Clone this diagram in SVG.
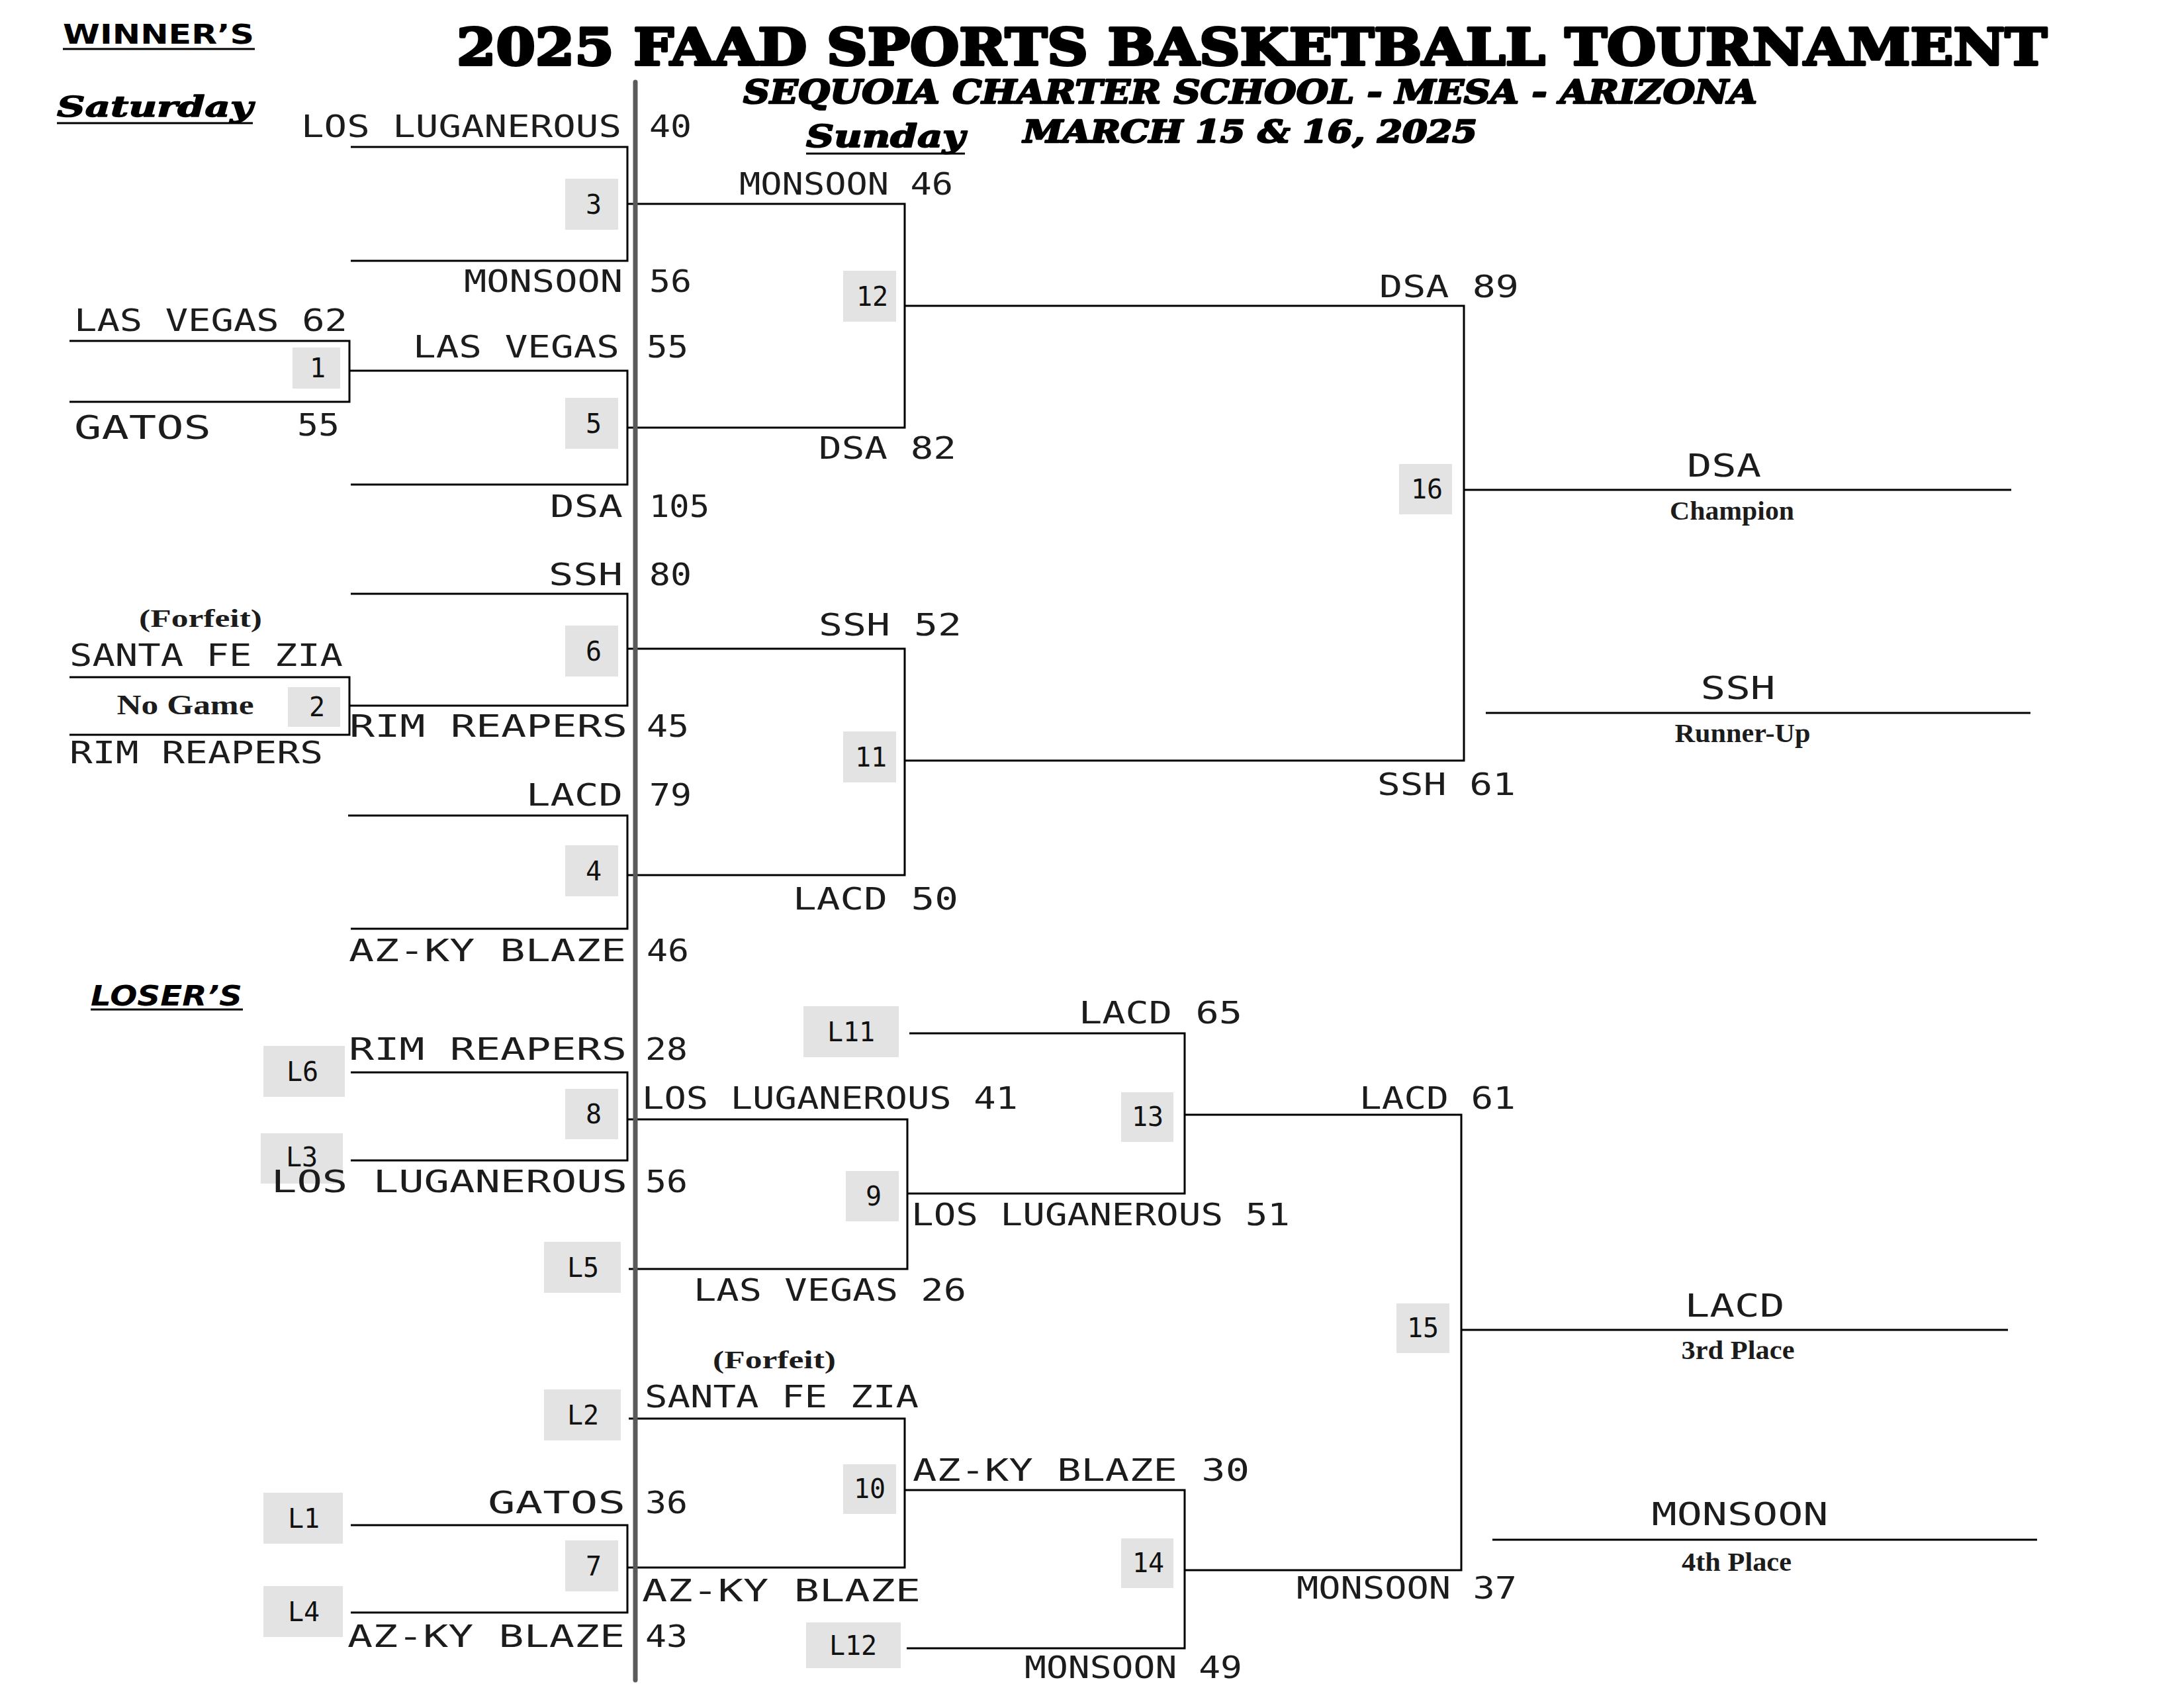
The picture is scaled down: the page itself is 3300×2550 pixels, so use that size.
<svg xmlns="http://www.w3.org/2000/svg" width="3300" height="2550" viewBox="0 0 3300 2550">
<style>
.nm{font-family:"DejaVu Sans Mono","Liberation Mono",monospace;font-size:46px;fill:#1c1c1c}
.big{font-size:50px}
.pl{font-family:"DejaVu Sans Mono","Liberation Mono",monospace;font-size:48px;fill:#1c1c1c}
.sr{font-family:"Liberation Serif","Times New Roman",serif;font-weight:bold;fill:#1c1c1c}
.box{fill:#e3e3e3}
.bn{font-family:"DejaVu Sans Mono","Liberation Mono",monospace;font-size:40px;fill:#111;text-anchor:middle}
.ln{fill:none;stroke:#000;stroke-width:3}
.hd{font-family:"DejaVu Serif","Liberation Serif",serif;font-weight:bold;fill:#000;stroke:#000;stroke-linejoin:round}
</style>
<rect width="3300" height="2550" fill="#fff"/>

<g id="headings">
<text class="hd" x="690" y="98" font-size="76" stroke-width="4" textLength="2403" lengthAdjust="spacingAndGlyphs">2025 FAAD SPORTS BASKETBALL TOURNAMENT</text>
<text class="hd" x="1123" y="156" font-size="48" stroke-width="2.5" font-style="italic" textLength="1532" lengthAdjust="spacingAndGlyphs">SEQUOIA CHARTER SCHOOL - MESA - ARIZONA</text>
<text class="hd" x="1546" y="215" font-size="46" stroke-width="2.5" font-style="italic" textLength="686" lengthAdjust="spacingAndGlyphs">MARCH 15 &amp; 16, 2025</text>
<text class="hd" x="1218" y="222" font-size="46" stroke-width="2" font-style="italic" textLength="240" lengthAdjust="spacingAndGlyphs">Sunday</text>
<line x1="1218" y1="232" x2="1458" y2="232" stroke="#000" stroke-width="3"/>
<text x="95" y="66" font-family="DejaVu Sans,Liberation Sans,sans-serif" font-weight="bold" font-size="40" fill="#000" textLength="289" lengthAdjust="spacingAndGlyphs">WINNER’S</text>
<line x1="95" y1="74" x2="385" y2="74" stroke="#000" stroke-width="3"/>
<text class="hd" x="86" y="176" font-size="43" stroke-width="1.5" font-style="italic" textLength="296" lengthAdjust="spacingAndGlyphs">Saturday</text>
<line x1="86" y1="186" x2="382" y2="186" stroke="#000" stroke-width="3"/>
<text x="137" y="1519" font-family="DejaVu Sans,Liberation Sans,sans-serif" font-weight="bold" font-style="italic" font-size="43" fill="#000" textLength="229" lengthAdjust="spacingAndGlyphs">LOSER’S</text>
<line x1="137" y1="1525" x2="367" y2="1525" stroke="#000" stroke-width="3"/>
</g>

<g id="connectors">
<path class="ln" d="M530,222 H948 V394 H530"/>
<path class="ln" d="M105,515 H528 V607 H105"/>
<path class="ln" d="M528,560 H948 V732 H530"/>
<path class="ln" d="M948,308 H1367 V646 H948"/>
<path class="ln" d="M530,897 H948 V1066 H528"/>
<path class="ln" d="M105,1023 H528 V1110 H105"/>
<path class="ln" d="M526,1232 H948 V1403 H530"/>
<path class="ln" d="M948,980 H1367 V1322 H948"/>
<path class="ln" d="M1367,462 H2212 V1149 H1367"/>
<path class="ln" d="M2212,740 H3039"/>
<path class="ln" d="M2245,1077 H3068"/>
<path class="ln" d="M530,1620 H948 V1753 H530"/>
<path class="ln" d="M948,1691 H1371 V1917 H950"/>
<path class="ln" d="M1371,1803 H1790 V1561 H1374"/>
<path class="ln" d="M1790,1684 H2208 V2372 H1790"/>
<path class="ln" d="M2208,2009 H3034"/>
<path class="ln" d="M2255,2326 H3078"/>
<path class="ln" d="M530,2304 H948 V2436 H530"/>
<path class="ln" d="M950,2143 H1367 V2368 H948"/>
<path class="ln" d="M1367,2251 H1790 V2490 H1370"/>
<line x1="960" y1="124" x2="960" y2="2538" stroke="#5a5a5a" stroke-width="7" stroke-linecap="round"/>
</g>

<g id="game-boxes">
<g id="g3"><rect class="box" x="854" y="270" width="80" height="77"/><text class="bn" x="897" y="323">3</text></g>
<g id="g1"><rect class="box" x="442" y="525" width="72" height="62"/><text class="bn" x="480" y="570">1</text></g>
<g id="g5"><rect class="box" x="854" y="601" width="80" height="77"/><text class="bn" x="897" y="654">5</text></g>
<g id="g6"><rect class="box" x="854" y="945" width="80" height="77"/><text class="bn" x="897" y="998">6</text></g>
<g id="g2"><rect class="box" x="435" y="1038" width="79" height="60"/><text class="bn" x="479" y="1082">2</text></g>
<g id="g4"><rect class="box" x="854" y="1277" width="80" height="77"/><text class="bn" x="897" y="1330">4</text></g>
<g id="g12"><rect class="box" x="1274" y="409" width="80" height="77"/><text class="bn" x="1318" y="462">12</text></g>
<g id="g11"><rect class="box" x="1274" y="1105" width="80" height="77"/><text class="bn" x="1316" y="1158">11</text></g>
<g id="g16"><rect class="box" x="2114" y="701" width="80" height="76"/><text class="bn" x="2156" y="753">16</text></g>
<g id="l6"><rect class="box" x="398" y="1580" width="123" height="77"/><text class="bn" x="457" y="1633">L6</text></g>
<g id="g8"><rect class="box" x="854" y="1645" width="80" height="76"/><text class="bn" x="897" y="1697">8</text></g>
<g id="l3"><rect class="box" x="394" y="1712" width="124" height="76"/><text class="bn" x="456" y="1762">L3</text></g>
<g id="l5"><rect class="box" x="822" y="1876" width="116" height="77"/><text class="bn" x="881" y="1929">L5</text></g>
<g id="l2"><rect class="box" x="822" y="2099" width="116" height="77"/><text class="bn" x="881" y="2152">L2</text></g>
<g id="l1"><rect class="box" x="398" y="2255" width="120" height="77"/><text class="bn" x="459" y="2308">L1</text></g>
<g id="g7"><rect class="box" x="854" y="2327" width="80" height="77"/><text class="bn" x="897" y="2380">7</text></g>
<g id="l4"><rect class="box" x="398" y="2396" width="120" height="77"/><text class="bn" x="459" y="2449">L4</text></g>
<g id="l11"><rect class="box" x="1214" y="1520" width="144" height="77"/><text class="bn" x="1286" y="1573">L11</text></g>
<g id="g13"><rect class="box" x="1694" y="1650" width="79" height="75"/><text class="bn" x="1734" y="1701">13</text></g>
<g id="g9"><rect class="box" x="1278" y="1769" width="80" height="76"/><text class="bn" x="1320" y="1821">9</text></g>
<g id="g15"><rect class="box" x="2110" y="1969" width="80" height="75"/><text class="bn" x="2150" y="2020">15</text></g>
<g id="g10"><rect class="box" x="1274" y="2212" width="80" height="75"/><text class="bn" x="1314" y="2263">10</text></g>
<g id="g14"><rect class="box" x="1694" y="2324" width="79" height="75"/><text class="bn" x="1735" y="2375">14</text></g>
<g id="l12"><rect class="box" x="1218" y="2451" width="143" height="69"/><text class="bn" x="1289" y="2500">L12</text></g>
</g>

<g id="winners-labels">
<text class="nm" x="455" y="207" textLength="484" lengthAdjust="spacingAndGlyphs">LOS LUGANEROUS</text>
<text class="nm" x="981" y="207" textLength="64" lengthAdjust="spacingAndGlyphs">40</text>
<text class="nm" x="701" y="441" textLength="240" lengthAdjust="spacingAndGlyphs">MONSOON</text>
<text class="nm" x="981" y="441" textLength="64" lengthAdjust="spacingAndGlyphs">56</text>
<text class="nm" x="112" y="500" textLength="413" lengthAdjust="spacingAndGlyphs">LAS VEGAS 62</text>
<text class="nm" x="624" y="540" textLength="312" lengthAdjust="spacingAndGlyphs">LAS VEGAS</text>
<text class="nm" x="977" y="540" textLength="63" lengthAdjust="spacingAndGlyphs">55</text>
<text class="nm big" x="112" y="663" textLength="207" lengthAdjust="spacingAndGlyphs">GATOS</text>
<text class="nm" x="449" y="658" textLength="64" lengthAdjust="spacingAndGlyphs">55</text>
<text class="nm" x="831" y="781" textLength="110" lengthAdjust="spacingAndGlyphs">DSA</text>
<text class="nm" x="981" y="781" textLength="91" lengthAdjust="spacingAndGlyphs">105</text>
<text class="nm" x="829" y="884" textLength="112" lengthAdjust="spacingAndGlyphs">SSH</text>
<text class="nm" x="981" y="884" textLength="64" lengthAdjust="spacingAndGlyphs">80</text>
<text class="sr" x="303" y="947" font-size="38" text-anchor="middle" textLength="186" lengthAdjust="spacingAndGlyphs">(Forfeit)</text>
<text class="nm" x="105" y="1006" textLength="413" lengthAdjust="spacingAndGlyphs">SANTA FE ZIA</text>
<text class="sr" x="280" y="1079" font-size="42" text-anchor="middle" textLength="207" lengthAdjust="spacingAndGlyphs">No Game</text>
<text class="nm" x="528" y="1113" textLength="420" lengthAdjust="spacingAndGlyphs">RIM REAPERS</text>
<text class="nm" x="977" y="1113" textLength="64" lengthAdjust="spacingAndGlyphs">45</text>
<text class="nm" x="105" y="1153" textLength="383" lengthAdjust="spacingAndGlyphs">RIM REAPERS</text>
<text class="nm" x="795" y="1217" textLength="146" lengthAdjust="spacingAndGlyphs">LACD</text>
<text class="nm" x="981" y="1217" textLength="64" lengthAdjust="spacingAndGlyphs">79</text>
<text class="nm" x="527" y="1452" textLength="419" lengthAdjust="spacingAndGlyphs">AZ-KY BLAZE</text>
<text class="nm" x="977" y="1452" textLength="64" lengthAdjust="spacingAndGlyphs">46</text>
<text class="nm" x="1117" y="294" textLength="323" lengthAdjust="spacingAndGlyphs">MONSOON 46</text>
<text class="nm" x="2084" y="449" textLength="211" lengthAdjust="spacingAndGlyphs">DSA 89</text>
<text class="nm" x="1237" y="693" textLength="208" lengthAdjust="spacingAndGlyphs">DSA 82</text>
<text class="nm" x="1237" y="960" textLength="216" lengthAdjust="spacingAndGlyphs">SSH 52</text>
<text class="nm" x="2081" y="1201" textLength="209" lengthAdjust="spacingAndGlyphs">SSH 61</text>
<text class="nm" x="1198" y="1374" textLength="250" lengthAdjust="spacingAndGlyphs">LACD 50</text>
</g>

<g id="placings">
<text class="pl" x="2605" y="720" text-anchor="middle" textLength="112" lengthAdjust="spacingAndGlyphs">DSA</text>
<text class="sr" x="2617" y="785" font-size="40" text-anchor="middle" textLength="188" lengthAdjust="spacingAndGlyphs">Champion</text>
<text class="pl" x="2626" y="1056" text-anchor="middle" textLength="113" lengthAdjust="spacingAndGlyphs">SSH</text>
<text class="sr" x="2633" y="1121" font-size="40" text-anchor="middle" textLength="205" lengthAdjust="spacingAndGlyphs">Runner-Up</text>
<text class="pl" x="2621" y="1989" text-anchor="middle" textLength="151" lengthAdjust="spacingAndGlyphs">LACD</text>
<text class="sr" x="2626" y="2053" font-size="40" text-anchor="middle" textLength="171" lengthAdjust="spacingAndGlyphs">3rd Place</text>
<text class="pl" x="2629" y="2304" text-anchor="middle" textLength="267" lengthAdjust="spacingAndGlyphs">MONSOON</text>
<text class="sr" x="2624" y="2373" font-size="40" text-anchor="middle" textLength="166" lengthAdjust="spacingAndGlyphs">4th Place</text>
</g>

<g id="losers-labels">
<text class="nm" x="527" y="1601" textLength="420" lengthAdjust="spacingAndGlyphs">RIM REAPERS</text>
<text class="nm" x="975" y="1601" textLength="64" lengthAdjust="spacingAndGlyphs">28</text>
<text class="nm" x="410" y="1801" textLength="538" lengthAdjust="spacingAndGlyphs">LOS LUGANEROUS</text>
<text class="nm" x="975" y="1801" textLength="64" lengthAdjust="spacingAndGlyphs">56</text>
<text class="nm" x="737" y="2286" textLength="208" lengthAdjust="spacingAndGlyphs">GATOS</text>
<text class="nm" x="975" y="2286" textLength="64" lengthAdjust="spacingAndGlyphs">36</text>
<text class="nm" x="525" y="2488" textLength="419" lengthAdjust="spacingAndGlyphs">AZ-KY BLAZE</text>
<text class="nm" x="975" y="2488" textLength="64" lengthAdjust="spacingAndGlyphs">43</text>
<text class="nm" x="1630" y="1546" textLength="247" lengthAdjust="spacingAndGlyphs">LACD 65</text>
<text class="nm" x="970" y="1675" textLength="568" lengthAdjust="spacingAndGlyphs">LOS LUGANEROUS 41</text>
<text class="nm" x="1377" y="1851" textLength="572" lengthAdjust="spacingAndGlyphs">LOS LUGANEROUS 51</text>
<text class="nm" x="2054" y="1675" textLength="236" lengthAdjust="spacingAndGlyphs">LACD 61</text>
<text class="nm" x="1048" y="1965" textLength="412" lengthAdjust="spacingAndGlyphs">LAS VEGAS 26</text>
<text class="sr" x="1170" y="2067" font-size="38" text-anchor="middle" textLength="186" lengthAdjust="spacingAndGlyphs">(Forfeit)</text>
<text class="nm" x="974" y="2126" textLength="414" lengthAdjust="spacingAndGlyphs">SANTA FE ZIA</text>
<text class="nm" x="1379" y="2237" textLength="509" lengthAdjust="spacingAndGlyphs">AZ-KY BLAZE 30</text>
<text class="nm" x="970" y="2419" textLength="421" lengthAdjust="spacingAndGlyphs">AZ-KY BLAZE</text>
<text class="nm" x="1548" y="2535" textLength="329" lengthAdjust="spacingAndGlyphs">MONSOON 49</text>
<text class="nm" x="1959" y="2415" textLength="333" lengthAdjust="spacingAndGlyphs">MONSOON 37</text>
</g>
</svg>
